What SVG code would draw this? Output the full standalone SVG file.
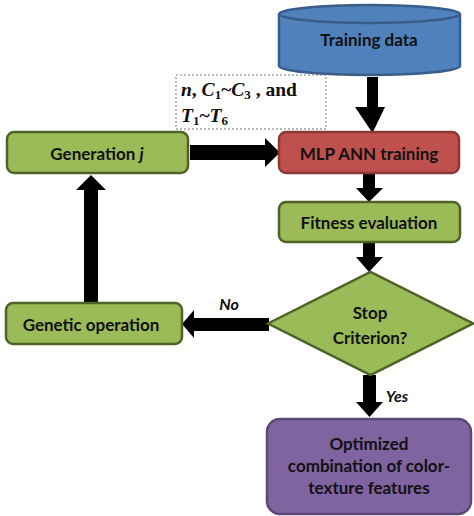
<svg xmlns="http://www.w3.org/2000/svg" width="474" height="516" viewBox="0 0 474 516">
<style>
.t{font-family:Lato,"Open Sans",sans-serif;font-weight:bold;font-size:17px;fill:#111;text-anchor:middle;dominant-baseline:central}
.g{fill:#9bbb59;stroke:#4f6228;stroke-width:2.5}
.m{font-family:"Liberation Serif",serif;font-weight:bold;font-size:19.5px;fill:#111}
.a{fill:#000}
</style>
<rect width="474" height="516" fill="#fff"/>
<g id="connectors">
<polygon class="a" points="367,77 378,77 378,107 385,107 372.5,133 355,107 367,107"/>
<polygon class="a" points="363,174 375,174 375,188 383,188 369,202 356,188 363,188"/>
<polygon class="a" points="363,243 375,243 375,257 383,257 369,272 356,257 363,257"/>
<polygon class="a" points="363,375 376,375 376,402 383,402 369.5,417 356,402 363,402"/>
<polygon class="a" points="190,145 265,145 265,138 280,152.5 265,167 265,160 190,160"/>
<polygon class="a" points="269,318 194,318 194,310 182,324 194,338 194,331 269,331"/>
<polygon class="a" points="84,302 98,302 98,190 106,190 91,175 76,190 84,190"/>
<text x="229" y="303" class="t" style="font-style:italic;font-size:16px">No</text>
<text x="397" y="395" class="t" style="font-style:italic;font-size:16px">Yes</text>
</g>
<g id="training-data">
<path d="M279,14 V66 A90.5,9 0 0 0 460,66 V14" fill="#4f81bd" stroke="#385d8a" stroke-width="2.5"/>
<ellipse cx="369.5" cy="14" rx="90.5" ry="9" fill="#4f81bd" stroke="#385d8a" stroke-width="2.5"/>
<text x="369" y="39" class="t">Training data</text>
</g>
<g id="params">
<rect x="176" y="75" width="150" height="54" fill="#fff" stroke="#777" stroke-width="1" stroke-dasharray="2,2"/>
<text x="181" y="96" class="m"><tspan font-style="italic">n</tspan>, <tspan font-style="italic">C</tspan><tspan font-size="13" dy="3">1</tspan><tspan dy="-3">~</tspan><tspan font-style="italic">C</tspan><tspan font-size="13" dy="3">3</tspan><tspan dy="-3"> , and</tspan></text>
<text x="181" y="122" class="m"><tspan font-style="italic">T</tspan><tspan font-size="13" dy="3">1</tspan><tspan dy="-3">~</tspan><tspan font-style="italic">T</tspan><tspan font-size="13" dy="3">6</tspan></text>
</g>
<g id="mlp">
<rect x="279" y="132" width="180" height="41" rx="7" fill="#c0504d" stroke="#8c3836" stroke-width="2.5"/>
<text x="369" y="153" class="t">MLP ANN training</text>
</g>
<g id="generation">
<rect x="7" y="132" width="181" height="41" rx="7" class="g"/>
<text x="97" y="153" class="t">Generation <tspan font-style="italic">j</tspan></text>
</g>
<g id="fitness">
<rect x="279" y="202" width="181" height="40" rx="7" class="g"/>
<text x="369" y="222" class="t">Fitness evaluation</text>
</g>
<g id="stop">
<polygon points="268,323.5 370.5,272 473,323.5 370.5,375" class="g"/>
<text x="370" y="312" class="t">Stop</text>
<text x="370" y="337" class="t">Criterion?</text>
</g>
<g id="genetic">
<rect x="6" y="303" width="176" height="41" rx="7" class="g"/>
<text x="91" y="324" class="t">Genetic operation</text>
</g>
<g id="result">
<rect x="267" y="419" width="204" height="95" rx="13" fill="#8064a2" stroke="#5c4776" stroke-width="2.5"/>
<text x="369" y="443" class="t">Optimized</text>
<text x="369" y="465" class="t">combination of color-</text>
<text x="369" y="487" class="t">texture features</text>
</g>
</svg>
